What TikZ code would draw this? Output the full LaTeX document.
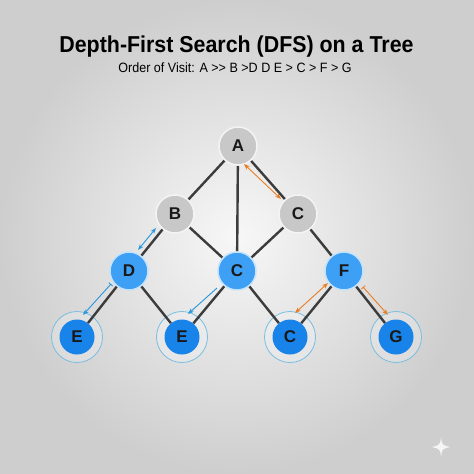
\documentclass[tikz,border=0pt]{standalone}
\usepackage{fontspec}
\setmainfont{Liberation Sans}
\newfontfamily\titlefont[FakeStretch=0.93]{Liberation Sans}
\usetikzlibrary{arrows.meta,backgrounds,calc}
\definecolor{bgin}{RGB}{247,247,247}
\definecolor{bgout}{RGB}{206,206,206}
\definecolor{graynode}{RGB}{200,200,200}
\definecolor{bluemid}{RGB}{62,160,244}
\definecolor{bluebot}{RGB}{24,132,234}
\definecolor{ringc}{RGB}{120,190,225}
\definecolor{edgec}{RGB}{60,60,60}
\definecolor{arrblue}{RGB}{40,150,220}
\definecolor{arrorange}{RGB}{232,125,35}
\begin{document}
\begin{tikzpicture}[x=1pt,y=-1pt,
  vnode/.style={circle,minimum size=38pt,inner sep=0pt,font=\bfseries\fontsize{17}{17}\selectfont,text=black!90},
  grayv/.style={vnode,fill=graynode,draw=white!80!graynode,line width=1.5pt},
  midv/.style={vnode,fill=bluemid,draw=white!70!bluemid,line width=1.5pt},
  botv/.style={vnode,minimum size=35pt,fill=bluebot},
  ring/.style={draw=ringc,line width=0.8pt,fill=white,fill opacity=0.22},
  tree/.style={draw=edgec,line width=2.4pt},
  barrow/.style={draw=arrblue,line width=0.9pt},
  oarrow/.style={draw=arrorange,line width=0.9pt},
  tipA/.style={-{Stealth[length=6pt,width=4.5pt]}},
  tipAA/.style={{Stealth[length=6pt,width=4.5pt]}-{Stealth[length=6pt,width=4.5pt]}},
  tipBA/.style={{Bar[width=5pt]}-{Stealth[length=6pt,width=4.5pt]}},
  titletext/.style={font=\titlefont\bfseries\fontsize{23}{23}\selectfont,anchor=base},
  subtext/.style={font=\titlefont\fontsize{13.5}{13.5}\selectfont,anchor=base}
]
\useasboundingbox (0,0) rectangle (474,474);

% titles
\node[titletext] (title) at (236.5,52) {Depth-First Search (DFS) on a Tree};
\node[subtext] (sub) at (235,72) {Order of Visit: A >> B >D D E > C > F > G};

% nodes
\node[grayv] (A) at (238,146) {A};
\node[grayv] (B) at (175,214) {B};
\node[grayv] (C1) at (298,214) {C};
\node[midv] (D) at (129,271) {D};
\node[midv] (C2) at (237,271) {C};
\node[midv] (F) at (344,271) {F};
\node[botv] (E1) at (77,337) {E};
\node[botv] (E2) at (182,337) {E};
\node[botv] (C3) at (290,337) {C};
\node[botv] (G) at (396,337) {G};

\begin{scope}[on background layer]
  \shade[inner color=bgin, outer color=bgout] (0,0) rectangle (474,474);
  \foreach \n in {E1,E2,C3,G} \path[ring] (\n) circle (25.5);
  \draw[tree] (A) -- (B);
  \draw[tree] (A) -- (C2);
  \draw[tree] (A) -- (C1);
  \draw[tree] (B) -- (D);
  \draw[tree] (B) -- (C2);
  \draw[tree] (C1) -- (C2);
  \draw[tree] (C1) -- (F);
  \draw[tree] (D) -- (E1);
  \draw[tree] (D) -- (E2);
  \draw[tree] (C2) -- (E2);
  \draw[tree] (C2) -- (C3);
  \draw[tree] (F) -- (C3);
  \draw[tree] (F) -- (G);
\end{scope}

% traversal arrows
\coordinate (bd1) at (138,250); \coordinate (bd2) at (156,228);
\coordinate (de1) at (111,284); \coordinate (de2) at (83,315);
\coordinate (ce1) at (217,288); \coordinate (ce2) at (188,314);
\coordinate (ac1) at (244,164); \coordinate (ac2) at (281,199);
\coordinate (fc1) at (328,283); \coordinate (fc2) at (295,313);
\coordinate (fg1) at (363,287); \coordinate (fg2) at (388,315);
\draw[barrow,tipAA] (bd1) -- (bd2);
\draw[barrow,tipBA] (de1) -- (de2);
\draw[barrow,tipA] (ce1) -- (ce2);
\draw[oarrow,tipAA] (ac1) -- (ac2);
\draw[oarrow,tipAA] (fc1) -- (fc2);
\draw[oarrow,tipBA] (fg1) -- (fg2);

% sparkle mark
\fill[white,opacity=0.8] (441,437) .. controls (442,445) .. (450,447)
  .. controls (442,449) .. (441,457) .. controls (440,449) .. (432,447)
  .. controls (440,445) .. (441,437) -- cycle;
\end{tikzpicture}
\end{document}
